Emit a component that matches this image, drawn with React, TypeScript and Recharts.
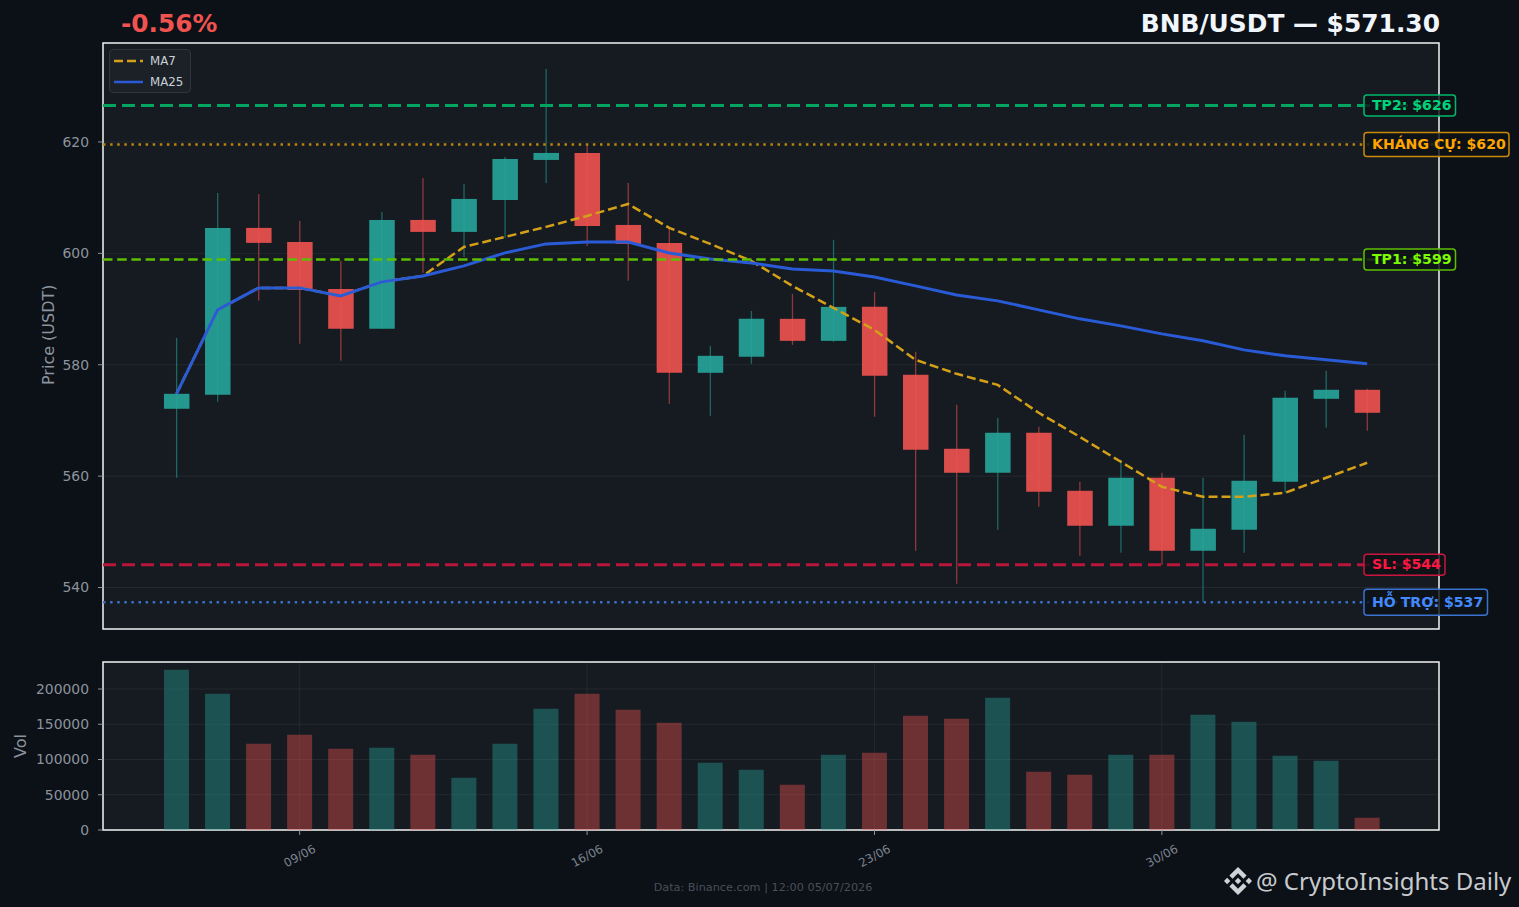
import {
    ComposedChart,
    Bar,
    Line,
    Cell,
    XAxis,
    YAxis,
    CartesianGrid,
    ReferenceLine,
    ReferenceArea,
    Legend,
} from 'recharts';

const days = [
    '06/06', '07/06', '08/06', '09/06', '10/06', '11/06', '12/06', '13/06', '14/06', '15/06',
    '16/06', '17/06', '18/06', '19/06', '20/06', '21/06', '22/06', '23/06', '24/06', '25/06',
    '26/06', '27/06', '28/06', '29/06', '30/06', '01/07', '02/07', '03/07', '04/07', '05/07',
];
const opens = [
    572.09, 574.6, 604.57, 602.05, 593.62, 586.44, 606.0, 603.85, 609.59, 616.77,
    618.03, 605.1, 601.88, 578.55, 581.42, 588.24, 584.29, 590.39, 578.19, 564.91,
    560.6, 567.78, 557.37, 551.09, 559.7, 546.6, 550.37, 558.99, 573.88, 575.5,
];
const closes = [
    574.78, 604.57, 601.88, 593.44, 586.44, 606.0, 603.85, 609.77, 616.95, 618.03,
    604.93, 601.7, 578.55, 581.6, 588.24, 584.29, 590.39, 578.01, 564.73, 560.6,
    567.78, 557.19, 551.09, 559.7, 546.6, 550.55, 559.17, 574.06, 575.5, 571.37,
];
const highs = [
    584.83, 610.85, 610.67, 605.82, 598.65, 607.44, 613.54, 612.46, 617.31, 633.1,
    619.46, 612.64, 604.39, 583.39, 589.67, 592.72, 602.41, 593.08, 582.32, 572.8,
    570.47, 568.86, 558.99, 562.93, 560.6, 559.7, 567.42, 575.32, 578.91, 575.68,
];
const lows = [
    559.7, 573.34, 591.47, 583.75, 580.7, 586.44, 596.5, 599.36, 602.77, 612.64,
    601.34, 595.06, 572.98, 570.83, 580.16, 583.57, 584.11, 570.65, 546.6, 540.68,
    550.37, 554.5, 545.71, 546.25, 544.1, 537.45, 546.25, 557.01, 568.68, 568.14,
];
const volumes = [
    227400, 193300, 122400, 135200, 115300, 116700, 106800, 74200, 122400, 172000,
    193300, 170600, 152200, 95400, 85500, 64300, 106800, 109600, 162100, 157900,
    187600, 82700, 78400, 106800, 106800, 163500, 153600, 105400, 98300, 17400,
];
const ma7 = [
    574.78, 589.85, 593.8, 593.8, 592.36, 594.88, 595.95, 601.16, 602.95, 604.75,
    606.72, 608.87, 604.57, 601.7, 598.65, 594.16, 590.21, 586.26, 580.88, 578.37,
    576.39, 571.37, 567.06, 562.58, 558.09, 556.3, 556.3, 557.01, 559.7, 562.4,
];
const ma25 = [
    574.78, 589.85, 593.8, 593.8, 592.36, 594.88, 595.95, 597.75, 600.08, 601.7,
    602.05, 602.05, 600.08, 599.0, 598.28, 597.2, 596.85, 595.77, 594.16, 592.54,
    591.47, 589.85, 588.24, 586.98, 585.54, 584.29, 582.67, 581.6, 580.88, 580.16,
];

const dateTicks = [3, 10, 17, 24];
const priceTicks = [540, 560, 580, 600, 620];
const volumeTicks = [0, 50000, 100000, 150000, 200000];

const levelLabels = ['TP2: $626', 'KHÁNG CỰ: $620', 'TP1: $599', 'SL: $544', 'HỖ TRỢ: $537'];
const levelPrices = [626.55, 619.55, 598.9, 544.1, 537.35];

const rows = days.map((day, i) => ({
    i,
    day,
    body: [opens[i], closes[i]],
    wick: [lows[i], highs[i]],
    volume: volumes[i],
    ma7: ma7[i],
    ma25: ma25[i],
    up: closes[i] >= opens[i],
}));

const X_DOMAIN: [number, number] = [-1.79, 30.75];
const PRICE_DOMAIN: [number, number] = [532.55, 637.77];
const VOLUME_DOMAIN: [number, number] = [0, 238300];

const UP = '#26a69a';
const DOWN = '#ef5350';
const FRAME = '#f2f2f2';
const TICK = '#8b949e';
const font = '"DejaVu Sans", sans-serif';

const levelStyles = [
    { line: '#00a65f', text: '#00d47a', border: '#00b86b', dash: '13 6', lineWidth: 3, w: 91.5, h: 21 },
    { line: '#b8860b', text: '#ffa500', border: '#c98a0c', dash: '2.5 4.6', lineWidth: 2.5, w: 145, h: 24 },
    { line: '#5cbf00', text: '#7cfc00', border: '#5cbf00', dash: '9.5 4.7', lineWidth: 2.5, w: 91.5, h: 21 },
    { line: '#b8163a', text: '#ff1744', border: '#c8163f', dash: '13 6', lineWidth: 3, w: 81, h: 21 },
    { line: '#3a6fc4', text: '#448aff', border: '#3a72d0', dash: '2.5 4.6', lineWidth: 2.5, w: 123.5, h: 26 },
];

function LevelTag({ viewBox, index }: any) {
    const style = levelStyles[index];
    const x = viewBox.x + 1261;
    const y = viewBox.y;
    return (
        <g>
            <rect
                x={x}
                y={y - style.h / 2}
                width={style.w}
                height={style.h}
                rx={3}
                fill="#0d1117"
                fillOpacity={0.8}
                stroke={style.border}
                strokeWidth={1.5}
            />
            <text
                x={x + 8}
                y={y + 4.5}
                fontFamily={font}
                fontWeight={700}
                fontSize={14.1}
                fill={style.text}
            >
                {levelLabels[index]}
            </text>
        </g>
    );
}

function LegendBox({ payload }: any) {
    // only the two MA lines, bars have no legend entry
    const items = (payload || [])
        .filter((item: any) => item.value === 'MA7' || item.value === 'MA25')
        .sort((a: any, b: any) => a.value.length - b.value.length);
    return (
        <div
            style={{
                width: 82,
                height: 44,
                boxSizing: 'border-box',
                background: '#1c2128',
                border: '1px solid #30363d',
                borderRadius: 4,
                position: 'relative',
            }}
        >
            {items.map((item: any, i: number) => (
                <div
                    key={item.value}
                    style={{
                        position: 'absolute',
                        left: 3,
                        top: 2 + i * 20.5,
                        height: 18,
                        display: 'flex',
                        alignItems: 'center',
                    }}
                >
                    <svg width={32} height={6}>
                        <line
                            x1={1}
                            x2={30}
                            y1={3}
                            y2={3}
                            stroke={item.color}
                            strokeWidth={2.5}
                            strokeDasharray={i === 0 ? '9 4' : undefined}
                        />
                    </svg>
                    <span style={{ marginLeft: 5, fontFamily: font, fontSize: 11.8, color: '#c9d1d9' }}>
                        {item.value}
                    </span>
                </div>
            ))}
        </div>
    );
}

export default function App() {
    return (
        <div
            style={{
                position: 'absolute',
                left: 0,
                top: 0,
                width: 1519,
                height: 907,
                overflow: 'hidden',
                background: '#0c1017',
                fontFamily: font,
            }}
        >
            <div style={{ position: 'absolute', left: 121, top: 9, fontWeight: 700, fontSize: 24.8, color: '#ef5350' }}>
                -0.56%
            </div>
            <div style={{ position: 'absolute', right: 79, top: 9, fontWeight: 700, fontSize: 24.9, color: '#f0f6fc' }}>
                BNB/USDT — $571.30
            </div>

            <div style={{ position: 'absolute', left: 0, top: 0 }}>
                <ComposedChart
                    width={1519}
                    height={640}
                    data={rows}
                    margin={{ top: 43, right: 80, left: 0, bottom: 0 }}
                >
                    <CartesianGrid xAxisId="main" fill="#161b22" stroke="#ffffff" strokeOpacity={0.06} />
                    <XAxis
                        xAxisId="main"
                        dataKey="i"
                        type="number"
                        domain={X_DOMAIN}
                        ticks={dateTicks}
                        tick={false}
                        height={11}
                        tickSize={5}
                        axisLine={false}
                        tickLine={{ stroke: TICK }}
                        allowDataOverflow
                    />
                    <XAxis xAxisId="wick" dataKey="i" type="number" domain={X_DOMAIN} hide allowDataOverflow />
                    <YAxis
                        domain={PRICE_DOMAIN}
                        ticks={priceTicks}
                        width={103}
                        tickSize={5}
                        tickMargin={9}
                        axisLine={false}
                        tick={{ fill: TICK, fontSize: 13.9, fontFamily: font }}
                        tickLine={{ stroke: TICK }}
                        label={{
                            value: 'Price (USDT)',
                            angle: -90,
                            position: 'insideLeft',
                            dx: 43,
                            dy: 49,
                            fill: TICK,
                            fontSize: 16,
                            fontFamily: font,
                        }}
                        allowDataOverflow
                    />
                    <Bar
                        xAxisId="main"
                        dataKey="body"
                        barSize={25.5}
                        isAnimationActive={false}
                        legendType="none"
                        fillOpacity={0.9}
                    >
                        {rows.map((r) => (
                            <Cell key={r.i} fill={r.up ? UP : DOWN} />
                        ))}
                    </Bar>
                    <Bar
                        xAxisId="wick"
                        dataKey="wick"
                        barSize={1.3}
                        isAnimationActive={false}
                        legendType="none"
                        fillOpacity={0.55}
                    >
                        {rows.map((r) => (
                            <Cell key={r.i} fill={r.up ? UP : DOWN} />
                        ))}
                    </Bar>
                    <Line
                        xAxisId="main"
                        dataKey="ma7"
                        name="MA7"
                        stroke="#d4a017"
                        strokeWidth={2.5}
                        strokeDasharray="9 4"
                        dot={false}
                        isAnimationActive={false}
                    />
                    <Line
                        xAxisId="main"
                        dataKey="ma25"
                        name="MA25"
                        stroke="#2a5bd7"
                        strokeWidth={3}
                        dot={false}
                        isAnimationActive={false}
                    />
                    {levelPrices.map((price, i) => (
                        <ReferenceLine
                            key={price}
                            xAxisId="main"
                            y={price}
                            stroke={levelStyles[i].line}
                            strokeWidth={levelStyles[i].lineWidth}
                            strokeDasharray={levelStyles[i].dash}
                            label={<LevelTag index={i} />}
                        />
                    ))}
                    <ReferenceArea
                        xAxisId="main"
                        x1={X_DOMAIN[0]}
                        x2={X_DOMAIN[1]}
                        y1={PRICE_DOMAIN[0]}
                        y2={PRICE_DOMAIN[1]}
                        fill="none"
                        stroke={FRAME}
                        strokeWidth={1.5}
                    />
                    <Legend
                        layout="vertical"
                        align="center"
                        verticalAlign="middle"
                        wrapperStyle={{ left: 109, top: 49, width: 82, height: 44 }}
                        content={<LegendBox />}
                    />
                </ComposedChart>
            </div>

            <div style={{ position: 'absolute', left: 0, top: 650 }}>
                <ComposedChart
                    width={1519}
                    height={230}
                    data={rows}
                    margin={{ top: 12, right: 80, left: 0, bottom: 0 }}
                >
                    <CartesianGrid xAxisId="main" fill="#161b22" stroke="#ffffff" strokeOpacity={0.06} />
                    <XAxis
                        xAxisId="main"
                        dataKey="i"
                        type="number"
                        domain={X_DOMAIN}
                        ticks={dateTicks}
                        tickFormatter={(i: number) => days[i]}
                        height={50}
                        tickSize={5}
                        axisLine={false}
                        tickLine={{ stroke: TICK }}
                        angle={-28}
                        textAnchor="middle"
                        tick={{ fill: '#7d8590', fontSize: 11.8, fontFamily: font, dy: 15, dx: -2 }}
                        allowDataOverflow
                    />
                    <YAxis
                        domain={VOLUME_DOMAIN}
                        ticks={volumeTicks}
                        width={103}
                        tickSize={5}
                        tickMargin={9}
                        axisLine={false}
                        tick={{ fill: TICK, fontSize: 13.9, fontFamily: font }}
                        tickLine={{ stroke: TICK }}
                        label={{
                            value: 'Vol',
                            angle: -90,
                            position: 'insideLeft',
                            dx: 15,
                            dy: 12,
                            fill: TICK,
                            fontSize: 16,
                            fontFamily: font,
                        }}
                        allowDataOverflow
                    />
                    <Bar xAxisId="main" dataKey="volume" barSize={25} isAnimationActive={false} fillOpacity={0.4}>
                        {rows.map((r) => (
                            <Cell key={r.i} fill={r.up ? UP : DOWN} />
                        ))}
                    </Bar>
                    <ReferenceArea
                        xAxisId="main"
                        x1={X_DOMAIN[0]}
                        x2={X_DOMAIN[1]}
                        y1={VOLUME_DOMAIN[0]}
                        y2={VOLUME_DOMAIN[1]}
                        fill="none"
                        stroke={FRAME}
                        strokeWidth={1.5}
                    />
                </ComposedChart>
            </div>

            <div
                style={{
                    position: 'absolute',
                    left: 563,
                    width: 400,
                    top: 881,
                    textAlign: 'center',
                    fontSize: 11.25,
                    color: '#484f58',
                }}
            >
                Data: Binance.com | 12:00 05/07/2026
            </div>

            <svg
                style={{ position: 'absolute', left: 1224, top: 867 }}
                width={28}
                height={28}
                viewBox="6 6 20 20"
            >
                <path
                    fill="#d0d3d6"
                    d="M12.116 14.404L16 10.52l3.886 3.886 2.26-2.26L16 6l-6.144 6.144 2.26 2.26zM6 16l2.26-2.26L10.52 16l-2.26 2.26L6 16zm6.116 1.596L16 21.48l3.886-3.886 2.26 2.259L16 26l-6.144-6.144-.003-.003 2.263-2.257zM21.48 16l2.26-2.26L26 16l-2.26 2.26L21.48 16zm-3.188-.002h.002V16L16 18.294l-2.291-2.29-.004-.004.004-.003.401-.402.195-.195L16 13.706l2.293 2.293z"
                />
            </svg>
            <div
                style={{
                    position: 'absolute',
                    left: 1256,
                    top: 864,
                    fontFamily: '"Noto Sans", sans-serif',
                    fontSize: 24,
                    color: '#c8cbce',
                    whiteSpace: 'nowrap',
                }}
            >
                @ CryptoInsights Daily
            </div>
        </div>
    );
}
